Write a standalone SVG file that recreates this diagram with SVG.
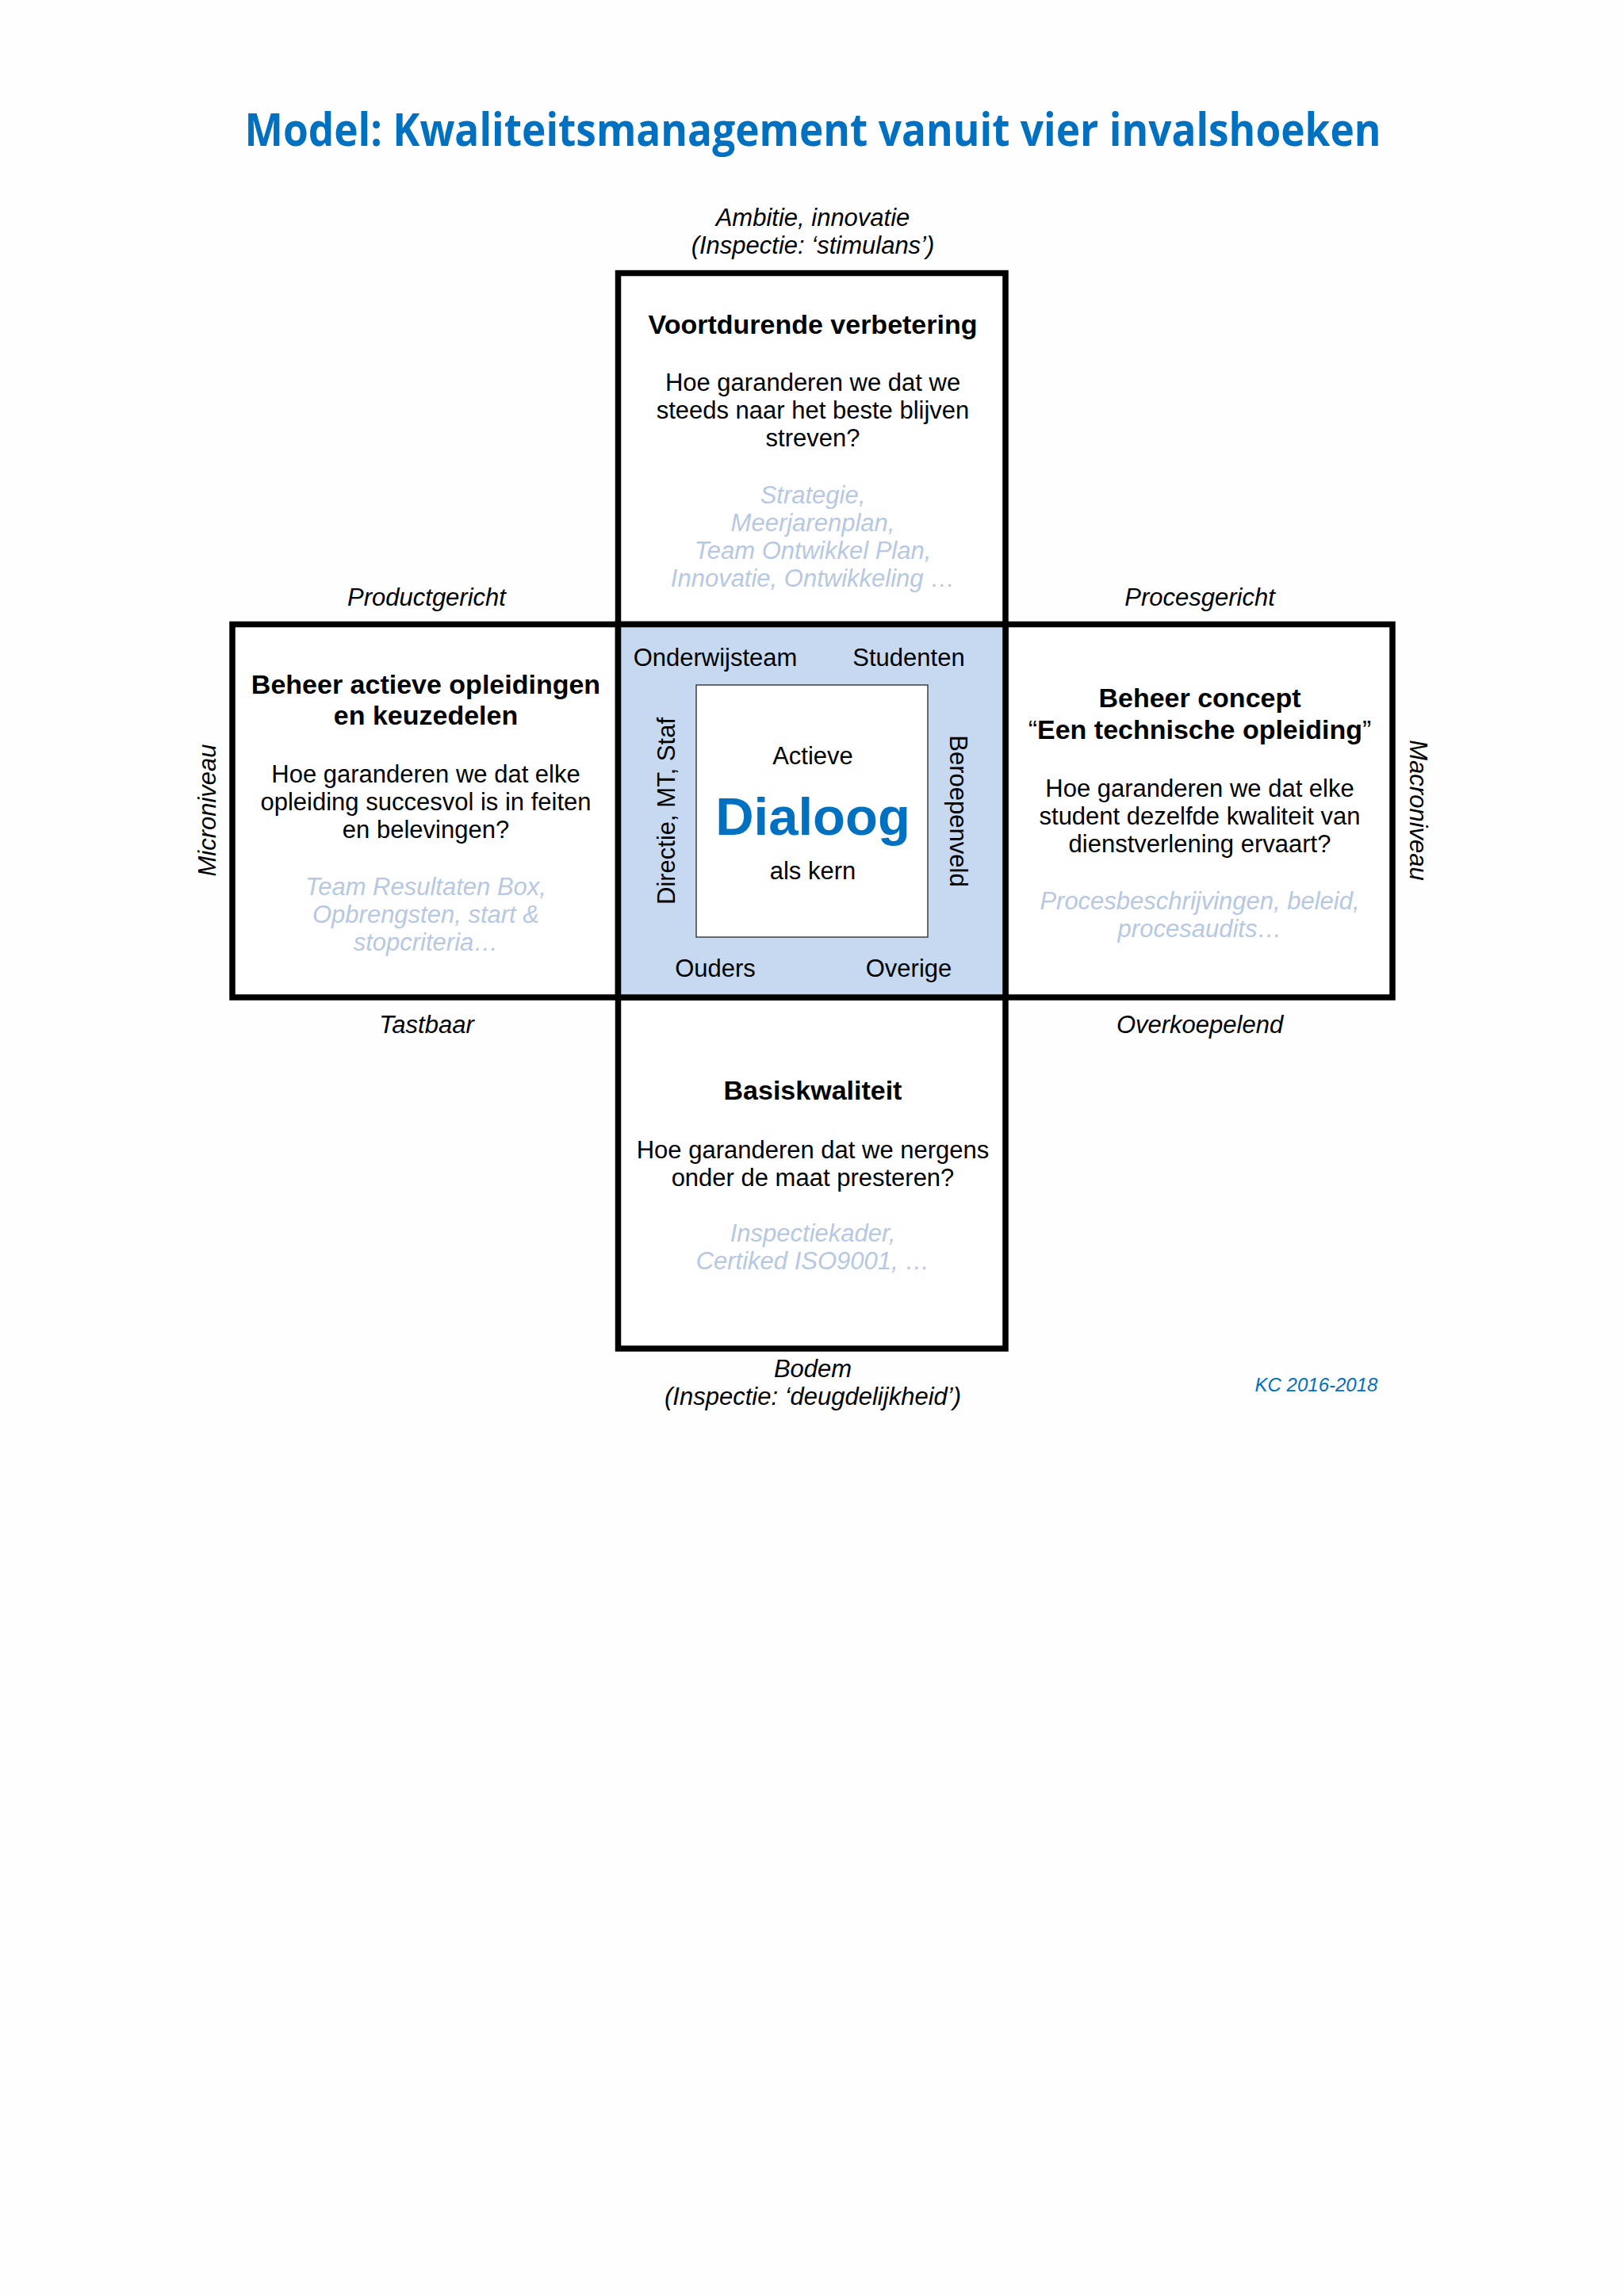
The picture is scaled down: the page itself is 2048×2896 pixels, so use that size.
<svg xmlns="http://www.w3.org/2000/svg" width="2048" height="2896" viewBox="0 0 2048 2896">
<style>
.box{fill:#ffffff;stroke:#000000;stroke-width:7.5}
.core{fill:#c6d9f0;stroke:#000000;stroke-width:7.5}
.inner{fill:#ffffff;stroke:#404040;stroke-width:1.5}
text{font-family:"Liberation Sans",Arial,sans-serif;text-anchor:middle;fill:#000000}
.h{font-size:34px;font-weight:bold}
.b{font-size:31px}
.g{font-size:31px;font-style:italic;fill:#b6c8e2}
.it{font-size:31px;font-style:italic}
.title{font-family:"Open Sans",sans-serif;font-weight:bold;font-size:58px;fill:#0070c0}
.dia{font-size:67px;font-weight:bold;fill:#0070c0}
.kc{font-size:24px;font-style:italic;fill:#0070c0}
</style>
<rect x="0" y="0" width="2048" height="2896" fill="#fefefe"/>
<text class="title" x="1025" y="184" textLength="1433" lengthAdjust="spacingAndGlyphs">Model: Kwaliteitsmanagement vanuit vier invalshoeken</text>

<g id="labels">
<text class="it" x="1025" y="285">Ambitie, innovatie</text>
<text class="it" x="1025" y="320">(Inspectie: ‘stimulans’)</text>
<text class="it" x="538" y="764">Productgericht</text>
<text class="it" x="1513" y="764">Procesgericht</text>
<text class="it" x="538" y="1303">Tastbaar</text>
<text class="it" x="1513" y="1303">Overkoepelend</text>
<text class="it" transform="translate(272,1022) rotate(-90)">Microniveau</text>
<text class="it" transform="translate(1778,1022) rotate(90)">Macroniveau</text>
<text class="it" x="1025" y="1737">Bodem</text>
<text class="it" x="1025" y="1772">(Inspectie: ‘deugdelijkheid’)</text>
<text class="kc" x="1660" y="1755">KC 2016-2018</text>
</g>

<g id="node-top">
<rect class="box" x="779.5" y="344.5" width="488.5" height="443"/>
<text class="h" x="1025" y="421">Voortdurende verbetering</text>
<text class="b" x="1025" y="493">Hoe garanderen we dat we</text>
<text class="b" x="1025" y="528">steeds naar het beste blijven</text>
<text class="b" x="1025" y="563">streven?</text>
<text class="g" x="1025" y="635">Strategie,</text>
<text class="g" x="1025" y="670">Meerjarenplan,</text>
<text class="g" x="1025" y="705">Team Ontwikkel Plan,</text>
<text class="g" x="1025" y="740">Innovatie, Ontwikkeling …</text>
</g>

<g id="node-left">
<rect class="box" x="293" y="787.5" width="486.5" height="470.5"/>
<text class="h" x="537" y="875">Beheer actieve opleidingen</text>
<text class="h" x="537" y="914">en keuzedelen</text>
<text class="b" x="537" y="987">Hoe garanderen we dat elke</text>
<text class="b" x="537" y="1022">opleiding succesvol is in feiten</text>
<text class="b" x="537" y="1057">en belevingen?</text>
<text class="g" x="537" y="1129">Team Resultaten Box,</text>
<text class="g" x="537" y="1164">Opbrengsten, start &amp;</text>
<text class="g" x="537" y="1199">stopcriteria…</text>
</g>

<g id="node-right">
<rect class="box" x="1268" y="787.5" width="488" height="470.5"/>
<text class="h" x="1513" y="892">Beheer concept</text>
<text class="h" x="1513" y="932"><tspan font-weight="normal">“</tspan>Een technische opleiding<tspan font-weight="normal">”</tspan></text>
<text class="b" x="1513" y="1005">Hoe garanderen we dat elke</text>
<text class="b" x="1513" y="1040">student dezelfde kwaliteit van</text>
<text class="b" x="1513" y="1075">dienstverlening ervaart?</text>
<text class="g" x="1513" y="1147">Procesbeschrijvingen, beleid,</text>
<text class="g" x="1513" y="1182">procesaudits…</text>
</g>

<g id="node-bottom">
<rect class="box" x="779.5" y="1258" width="488.5" height="443"/>
<text class="h" x="1025" y="1387">Basiskwaliteit</text>
<text class="b" x="1025" y="1461">Hoe garanderen dat we nergens</text>
<text class="b" x="1025" y="1496">onder de maat presteren?</text>
<text class="g" x="1025" y="1566">Inspectiekader,</text>
<text class="g" x="1025" y="1601">Certiked ISO9001, …</text>
</g>

<g id="node-center">
<rect class="core" x="779.5" y="787.5" width="488.5" height="470.5"/>
<text class="b" x="902" y="840">Onderwijsteam</text>
<text class="b" x="1146" y="840">Studenten</text>
<text class="b" x="902" y="1232">Ouders</text>
<text class="b" x="1146" y="1232">Overige</text>
<text class="b" transform="translate(851,1023) rotate(-90)">Directie, MT, Staf</text>
<text class="b" transform="translate(1198,1023) rotate(90)">Beroepenveld</text>
<rect class="inner" x="878" y="864" width="292" height="318"/>
<text class="b" x="1025" y="964">Actieve</text>
<text class="dia" x="1025" y="1053">Dialoog</text>
<text class="b" x="1025" y="1109">als kern</text>
</g>

<g id="connectors"></g>
</svg>
